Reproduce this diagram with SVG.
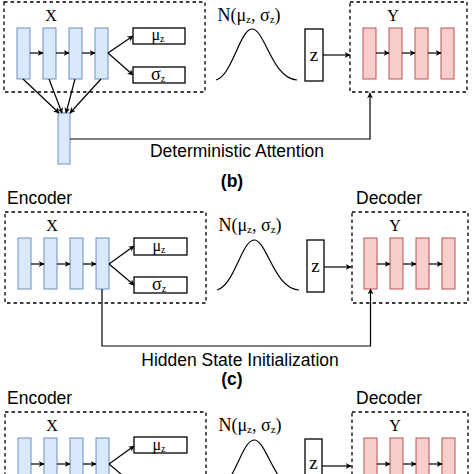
<svg xmlns="http://www.w3.org/2000/svg" width="474" height="474" viewBox="0 0 474 474">
<defs>
<marker id="arr" viewBox="0 0 10 10" refX="9" refY="5" markerWidth="6" markerHeight="6" markerUnits="userSpaceOnUse" orient="auto">
<path d="M0,0 L10,5 L0,10 L3,5 z" fill="#000"/>
</marker>
<style>
.dash{fill:none;stroke:#000;stroke-width:1.3;stroke-dasharray:3.5,3}
.enc{fill:#dae8fc;stroke:#6c8ebf;stroke-width:1}
.dec{fill:#f8cecc;stroke:#b85450;stroke-width:1}
.box{fill:#fff;stroke:#000;stroke-width:1.3}
.ln{fill:none;stroke:#000;stroke-width:1.2}
.ar{fill:none;stroke:#000;stroke-width:1.2;marker-end:url(#arr)}
.ser{font-family:"Liberation Serif","DejaVu Serif",serif;font-size:16px;fill:#000}
.nl{font-family:"Liberation Serif","DejaVu Serif",serif;font-size:18px;fill:#000}
.zl{font-family:"Liberation Serif","DejaVu Serif",serif;font-size:19px;fill:#000}
.mu{font-family:"Liberation Serif","DejaVu Serif",serif;font-size:16px;fill:#000}
.sg{font-family:"Liberation Serif","DejaVu Serif",serif;font-size:18px;fill:#000}
.sans{font-family:"Liberation Sans",Arial,sans-serif;font-size:17.5px;fill:#000}
.bold{font-family:"Liberation Sans",Arial,sans-serif;font-size:17.5px;font-weight:bold;fill:#000}
</style>
</defs>
<rect width="474" height="474" fill="#fff"/>

<!-- Panel (b) -->
<g id="b-encoder">
<rect class="dash" x="4" y="2" width="201" height="90"/>
<text class="ser" x="51" y="20.5" text-anchor="middle">X</text>
</g>
<g id="b-x1"><rect class="enc" x="17" y="28" width="13" height="51"/></g>
<g id="b-x2"><rect class="enc" x="43" y="28" width="13" height="51"/></g>
<g id="b-x3"><rect class="enc" x="69" y="28" width="13" height="51"/></g>
<g id="b-x4"><rect class="enc" x="95" y="28" width="13" height="51"/></g>
<g id="b-mu"><rect class="box" x="133" y="28" width="52" height="16"/><text class="mu" x="158" y="40" text-anchor="middle">μ<tspan font-size="10" dy="2">z</tspan></text></g>
<g id="b-sigma"><rect class="box" x="133" y="67" width="52" height="16"/><text class="sg" x="158" y="80" text-anchor="middle">σ<tspan font-size="10" dy="2">z</tspan></text></g>
<g id="b-normal">
<text class="nl" x="249" y="21" text-anchor="middle">N(μ<tspan font-size="11" dy="2">z</tspan><tspan dy="-2">, σ</tspan><tspan font-size="11" dy="2">z</tspan><tspan dy="-2">)</tspan></text>
<path class="ln" stroke-width="1.5" d="M216,80 C232,76 240,29 252,29 C265,29 272,79 297,80"/>
</g>
<g id="b-z"><rect class="box" x="305" y="29" width="18" height="52"/><text class="zl" x="314" y="61" text-anchor="middle">z</text></g>
<g id="b-decoder">
<rect class="dash" x="350" y="2" width="117" height="90"/>
<text class="ser" x="393" y="20.5" text-anchor="middle">Y</text>
</g>
<g id="b-y1"><rect class="dec" x="363" y="28" width="13" height="51"/></g>
<g id="b-y2"><rect class="dec" x="389" y="28" width="13" height="51"/></g>
<g id="b-y3"><rect class="dec" x="415" y="28" width="13" height="51"/></g>
<g id="b-y4"><rect class="dec" x="441" y="28" width="13" height="51"/></g>
<g id="b-attn"><rect class="enc" x="58" y="113" width="12" height="51"/></g>
<g id="b-connectors">
<line class="ar" x1="30" y1="53" x2="43" y2="53"/>
<line class="ar" x1="56" y1="53" x2="69" y2="53"/>
<line class="ar" x1="82" y1="53" x2="95" y2="53"/>
<line class="ar" x1="108" y1="53" x2="133" y2="36"/>
<line class="ar" x1="108" y1="53" x2="133" y2="75"/>
<line class="ar" x1="23" y1="79" x2="59" y2="113"/>
<line class="ar" x1="49" y1="79" x2="62" y2="113"/>
<line class="ar" x1="75" y1="79" x2="66" y2="113"/>
<line class="ar" x1="101" y1="79" x2="70" y2="113"/>
<line class="ar" x1="323" y1="55" x2="350" y2="55"/>
<line class="ar" x1="376" y1="53" x2="389" y2="53"/>
<line class="ar" x1="402" y1="53" x2="415" y2="53"/>
<line class="ar" x1="428" y1="53" x2="441" y2="53"/>
<polyline class="ar" points="70,139 370,139 370,93"/>
</g>
<text class="sans" x="237" y="157" text-anchor="middle">Deterministic Attention</text>
<text class="bold" x="232" y="187" text-anchor="middle">(b)</text>

<!-- Panel (c) -->
<text class="sans" x="7" y="204">Encoder</text>
<text class="sans" x="356" y="204">Decoder</text>
<g id="c-encoder">
<rect class="dash" x="5" y="212" width="201" height="91"/>
<text class="ser" x="52" y="231" text-anchor="middle">X</text>
</g>
<g id="c-x1"><rect class="enc" x="18" y="238" width="13" height="51"/></g>
<g id="c-x2"><rect class="enc" x="44" y="238" width="13" height="51"/></g>
<g id="c-x3"><rect class="enc" x="70" y="238" width="13" height="51"/></g>
<g id="c-x4"><rect class="enc" x="96" y="238" width="13" height="51"/></g>
<g id="c-mu"><rect class="box" x="134" y="238" width="53" height="17"/><text class="mu" x="159" y="250.5" text-anchor="middle">μ<tspan font-size="10" dy="2">z</tspan></text></g>
<g id="c-sigma"><rect class="box" x="134" y="277" width="53" height="16"/><text class="sg" x="159" y="290" text-anchor="middle">σ<tspan font-size="10" dy="2">z</tspan></text></g>
<g id="c-normal">
<text class="nl" x="250" y="231" text-anchor="middle">N(μ<tspan font-size="11" dy="2">z</tspan><tspan dy="-2">, σ</tspan><tspan font-size="11" dy="2">z</tspan><tspan dy="-2">)</tspan></text>
<path class="ln" stroke-width="1.5" d="M217,290 C234,286 242,240 254,240 C267,240 274,289 299,290"/>
</g>
<g id="c-z"><rect class="box" x="307" y="240" width="17" height="52"/><text class="zl" x="315.5" y="272" text-anchor="middle">z</text></g>
<g id="c-decoder">
<rect class="dash" x="352" y="212" width="116" height="91"/>
<text class="ser" x="395" y="231" text-anchor="middle">Y</text>
</g>
<g id="c-y1"><rect class="dec" x="364" y="238" width="13" height="51"/></g>
<g id="c-y2"><rect class="dec" x="390" y="238" width="13" height="51"/></g>
<g id="c-y3"><rect class="dec" x="416" y="238" width="13" height="51"/></g>
<g id="c-y4"><rect class="dec" x="442" y="238" width="13" height="51"/></g>
<g id="c-connectors">
<line class="ar" x1="31" y1="264" x2="44" y2="264"/>
<line class="ar" x1="57" y1="264" x2="70" y2="264"/>
<line class="ar" x1="83" y1="264" x2="96" y2="264"/>
<line class="ar" x1="109" y1="264" x2="134" y2="246"/>
<line class="ar" x1="109" y1="264" x2="134" y2="285"/>
<line class="ar" x1="324" y1="267" x2="351" y2="267"/>
<line class="ar" x1="377" y1="264" x2="390" y2="264"/>
<line class="ar" x1="403" y1="264" x2="416" y2="264"/>
<line class="ar" x1="429" y1="264" x2="442" y2="264"/>
<polyline class="ar" points="102,289 102,346 370.5,346 370.5,289"/>
</g>
<text class="sans" x="240" y="366" text-anchor="middle">Hidden State Initialization</text>
<text class="bold" x="232" y="385" text-anchor="middle">(c)</text>

<!-- Panel (d), cut off -->
<text class="sans" x="7" y="404">Encoder</text>
<text class="sans" x="356" y="404">Decoder</text>
<g id="d-encoder">
<rect class="dash" x="5" y="412" width="201" height="91"/>
<text class="ser" x="52" y="431" text-anchor="middle">X</text>
</g>
<g id="d-x1"><rect class="enc" x="18" y="438" width="13" height="51"/></g>
<g id="d-x2"><rect class="enc" x="44" y="438" width="13" height="51"/></g>
<g id="d-x3"><rect class="enc" x="70" y="438" width="13" height="51"/></g>
<g id="d-x4"><rect class="enc" x="96" y="438" width="13" height="51"/></g>
<g id="d-mu"><rect class="box" x="134" y="437" width="53" height="16"/><text class="mu" x="159" y="449.5" text-anchor="middle">μ<tspan font-size="10" dy="2">z</tspan></text></g>
<g id="d-normal">
<text class="nl" x="250" y="431" text-anchor="middle">N(μ<tspan font-size="11" dy="2">z</tspan><tspan dy="-2">, σ</tspan><tspan font-size="11" dy="2">z</tspan><tspan dy="-2">)</tspan></text>
<path class="ln" stroke-width="1.5" d="M217,490 C234,486 242,440 254,440 C267,440 274,489 299,490"/>
</g>
<g id="d-z"><rect class="box" x="305" y="439" width="17" height="52"/><text class="zl" x="313.5" y="469" font-size="18" text-anchor="middle">z</text></g>
<g id="d-decoder">
<rect class="dash" x="352" y="412" width="116" height="91"/>
<text class="ser" x="395" y="431" text-anchor="middle">Y</text>
</g>
<g id="d-y1"><rect class="dec" x="364" y="438" width="13" height="51"/></g>
<g id="d-y2"><rect class="dec" x="390" y="438" width="13" height="51"/></g>
<g id="d-y3"><rect class="dec" x="416" y="438" width="13" height="51"/></g>
<g id="d-y4"><rect class="dec" x="442" y="438" width="13" height="51"/></g>
<g id="d-connectors">
<line class="ar" x1="31" y1="464" x2="44" y2="464"/>
<line class="ar" x1="57" y1="464" x2="70" y2="464"/>
<line class="ar" x1="83" y1="464" x2="96" y2="464"/>
<line class="ar" x1="109" y1="464" x2="134" y2="446"/>
<line class="ar" x1="109" y1="464" x2="134" y2="485"/>
<line class="ar" x1="322" y1="466" x2="351" y2="466"/>
<line class="ar" x1="377" y1="464" x2="390" y2="464"/>
<line class="ar" x1="403" y1="464" x2="416" y2="464"/>
<line class="ar" x1="429" y1="464" x2="442" y2="464"/>
</g>
</svg>
